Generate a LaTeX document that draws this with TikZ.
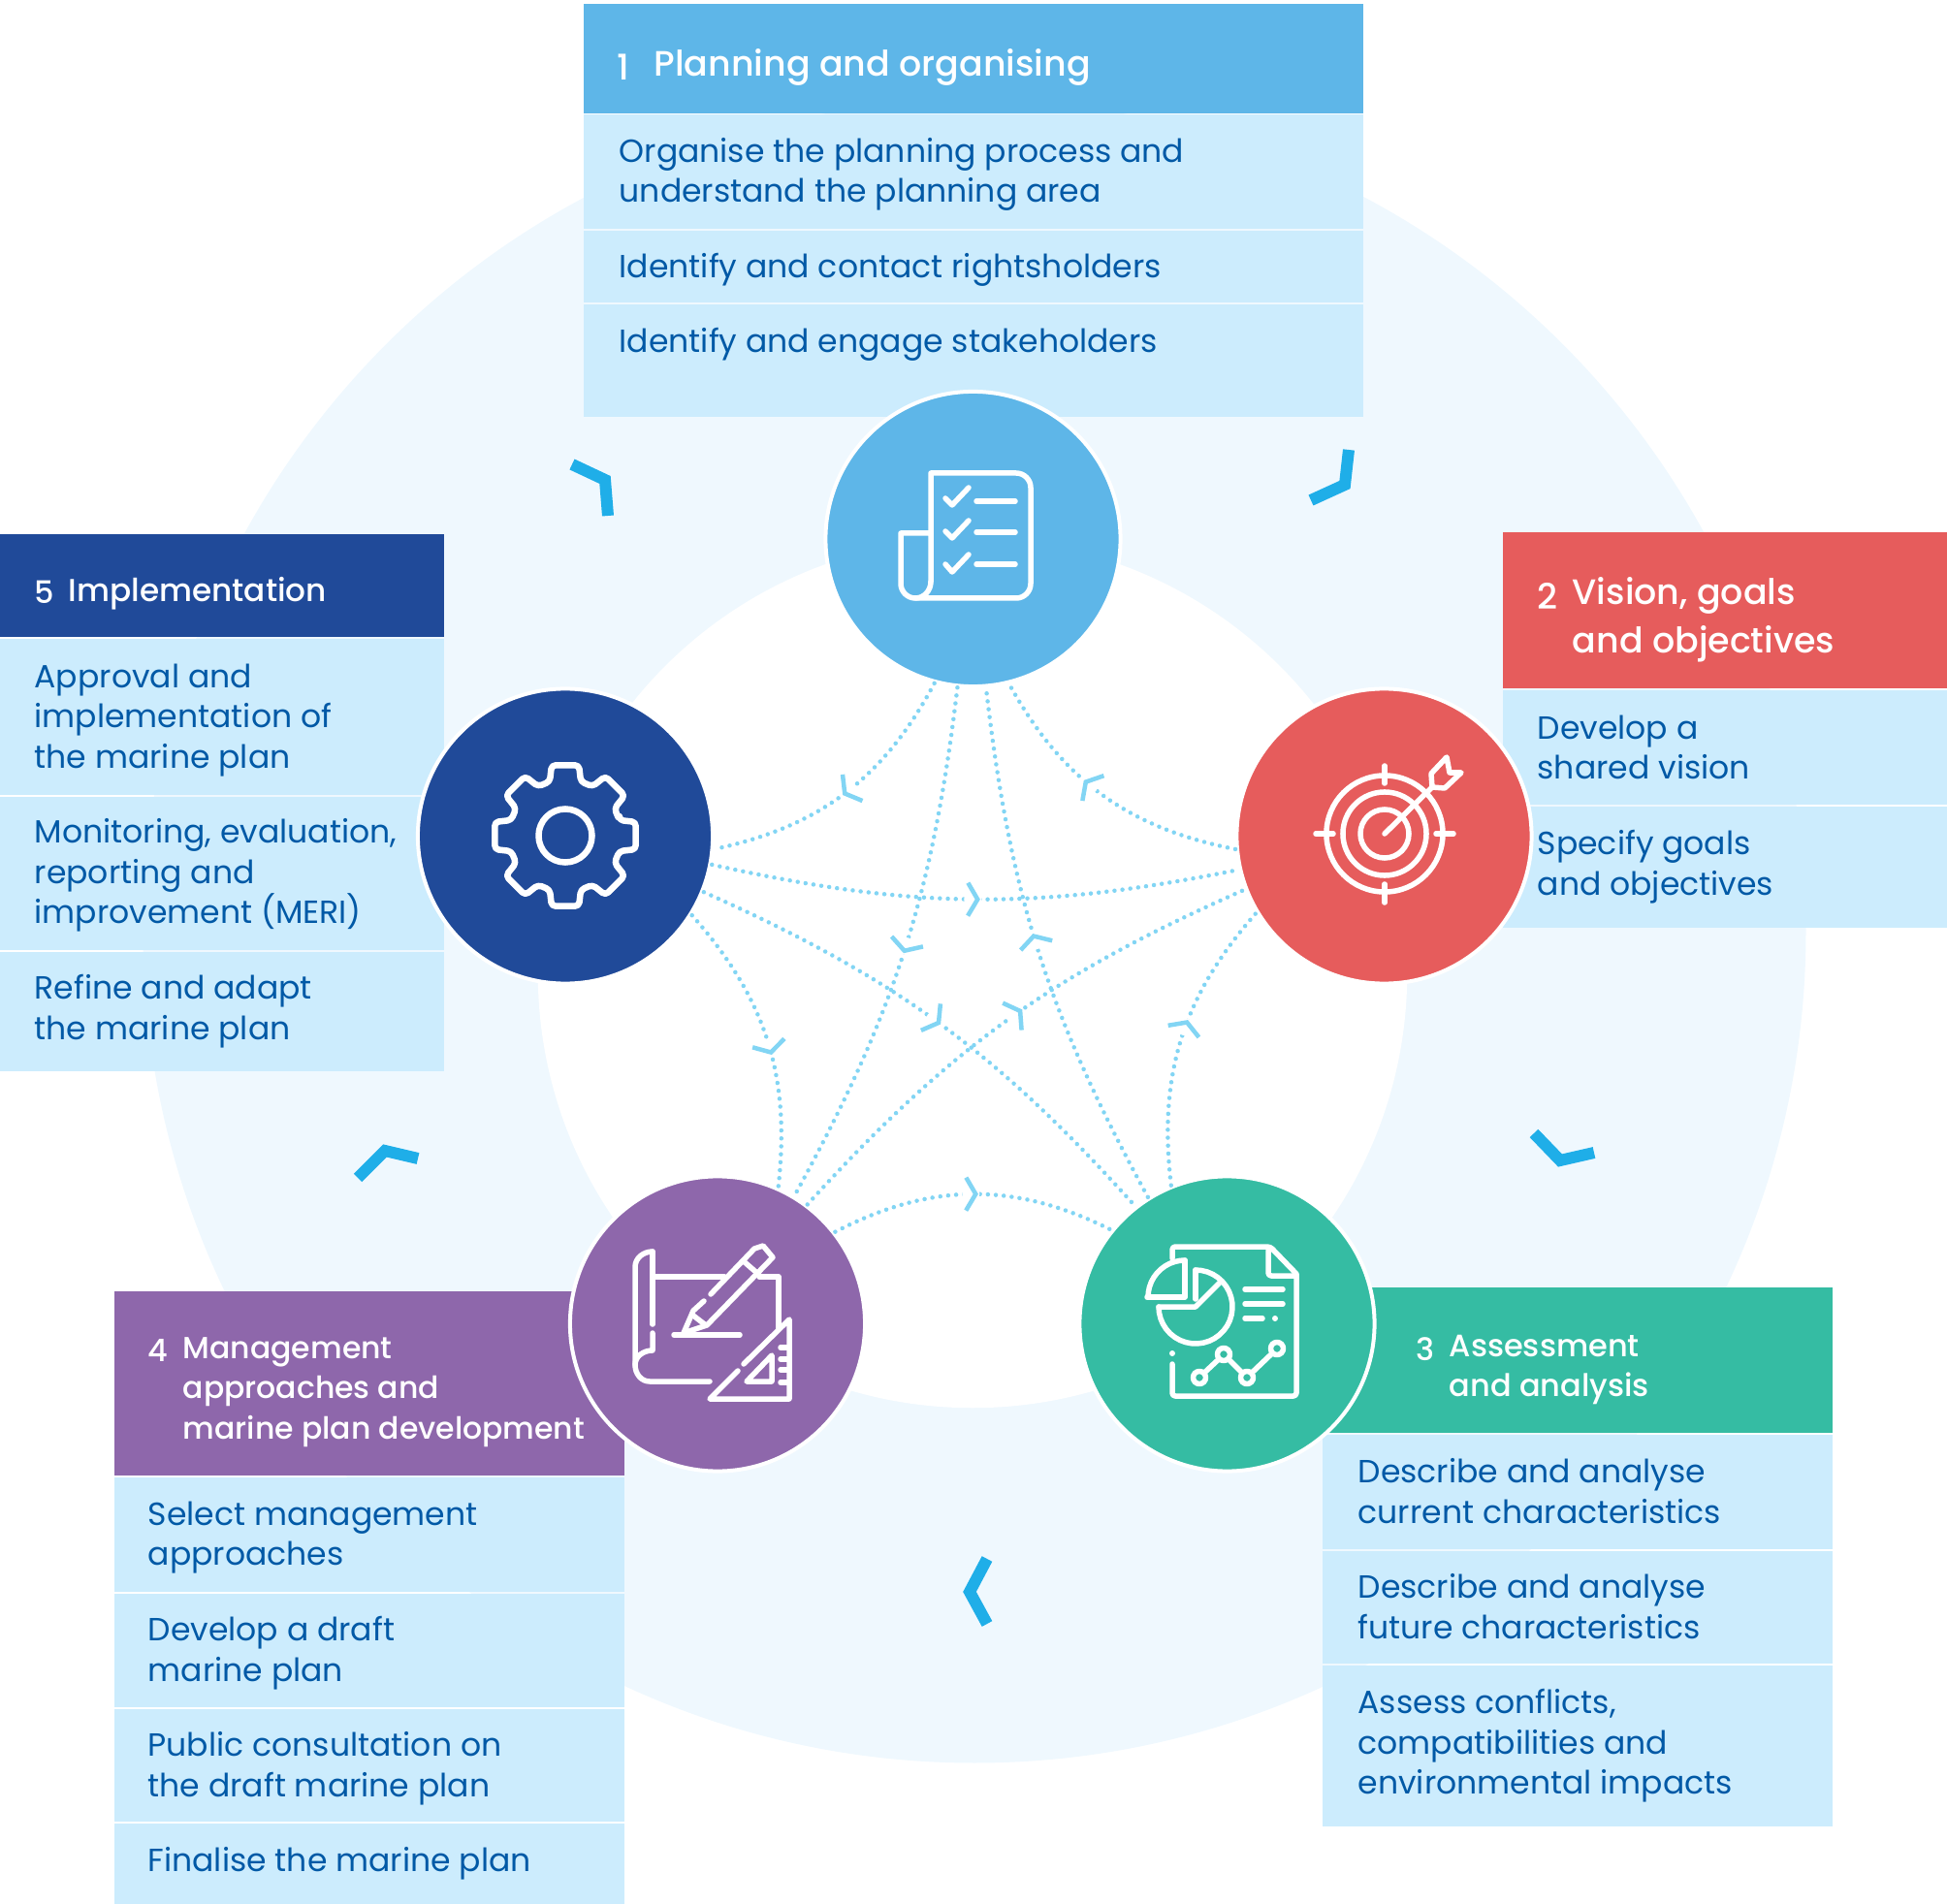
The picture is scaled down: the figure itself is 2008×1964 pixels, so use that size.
\documentclass[tikz,border=0pt]{standalone}
\usepackage{fontspec}
\setmainfont{Poppins}
\newfontfamily\headfamily{Poppins Medium}
\usepackage{xcolor}
\usetikzlibrary{decorations.markings}

\definecolor{backblue}{HTML}{EFF8FE}
\definecolor{rowblue}{HTML}{CCECFD}
\definecolor{textblue}{HTML}{0059A6}
\definecolor{planblue}{HTML}{5EB6E8}
\definecolor{visionred}{HTML}{E65C5C}
\definecolor{assessgreen}{HTML}{35BCA3}
\definecolor{managepurple}{HTML}{8E67AB}
\definecolor{implblue}{HTML}{204A99}
\definecolor{dotblue}{HTML}{82D5F4}
\definecolor{chevblue}{HTML}{1FAEE8}

\tikzset{
    stepcircle/.style={circle,draw=white,line width=0.04cm,minimum size=3.04cm,inner sep=0pt},
    rowtext/.style={anchor=west,align=left,inner sep=0pt,text=textblue,font=\fontsize{9.4}{11.84}\selectfont},
    headtext/.style={anchor=west,align=left,inner sep=0pt,text=white,font=\headfamily\fontsize{9.1}{11.84}\selectfont},
    bigheadtext/.style={anchor=west,align=left,inner sep=0pt,text=white,font=\headfamily\fontsize{10.35}{14.2}\selectfont},
    iconline/.style={draw=white,line width=0.055cm,line cap=round,line join=round},
    bigchevron/.style={draw=chevblue,line width=0.12cm},
    smallchevron/.style={solid,draw=dotblue,line width=0.045cm,line cap=butt,miter limit=10},
    link/.style={draw=dotblue,line width=0.045cm,line cap=round,dash pattern=on 0pt off 0.082cm,
        postaction={decorate,decoration={markings,mark=at position #1 with {
            \fill[white] (-5,0) circle (0.09cm);
            \draw[smallchevron] (-10,-17) -- (0,0) -- (-10,17);}}}},
    link/.default=0.5,
}

\begin{document}
\begin{tikzpicture}[x=0.01cm,y=-0.01cm]
    \useasboundingbox (0,0) rectangle (2008,1964);

    % background rings
    \fill[backblue] (1005,961) circle (8.57cm);
    \fill[white] (1003,1004) circle (4.48cm);

    % panels
    \fill[planblue] (602,4) rectangle (1406,117);
    \fill[rowblue] (602,118) rectangle (1406,236);
    \fill[rowblue] (602,238) rectangle (1406,312);
    \fill[rowblue] (602,314) rectangle (1406,430);

    \fill[visionred] (1550,549) rectangle (2008,710);
    \fill[rowblue] (1550,712) rectangle (2008,830);
    \fill[rowblue] (1550,832) rectangle (2008,957);

    \fill[implblue] (0,551) rectangle (458,657);
    \fill[rowblue] (0,659) rectangle (458,820);
    \fill[rowblue] (0,822) rectangle (458,980);
    \fill[rowblue] (0,982) rectangle (458,1105);

    \fill[managepurple] (118,1332) rectangle (644,1522);
    \fill[rowblue] (118,1524) rectangle (644,1642);
    \fill[rowblue] (118,1644) rectangle (644,1761);
    \fill[rowblue] (118,1763) rectangle (644,1879);
    \fill[rowblue] (118,1881) rectangle (644,1964);

    \fill[assessgreen] (1364,1328) rectangle (1890,1478);
    \fill[rowblue] (1364,1480) rectangle (1890,1598);
    \fill[rowblue] (1364,1600) rectangle (1890,1716);
    \fill[rowblue] (1364,1718) rectangle (1890,1884);

    % step circles
    \node[stepcircle,fill=planblue] (plan) at (1003.5,556) {};
    \node[stepcircle,fill=visionred] (vision) at (1427.5,862.5) {};
    \node[stepcircle,fill=assessgreen] (assess) at (1265.5,1365.5) {};
    \node[stepcircle,fill=managepurple] (manage) at (740,1365.5) {};
    \node[stepcircle,fill=implblue] (impl) at (583,862.5) {};

    % dotted links
    \draw[link] (plan.-105) to[bend left=25] (impl.-5);
    \draw[link=0.54] (impl.-32) to[bend left=24] (manage.66);
    \draw[link=0.51] (manage.38) to[bend left=27] (assess.141);
    \draw[link=0.56] (assess.112) to[bend left=24] (vision.-149);
    \draw[link=0.57] (vision.-175) to[bend left=25] (plan.-76);
    \draw[link=0.505] (impl.-11) to[bend right=12] (vision.-167);
    \draw[link] (plan.-96) to[bend left=11] (manage.59);
    \draw[link=0.53] (assess.122) to[bend left=11] (plan.-85);
    \draw[link] (impl.-22) to[bend left=12] (assess.128);
    \draw[link=0.53] (manage.53) to[bend left=12] (vision.-159);

    % big chevrons
    \draw[bigchevron] (590,479) -- (624,495) -- (627,532);
    \draw[bigchevron] (1352,516) -- (1387,500) -- (1391,464);
    \draw[bigchevron] (1582,1169) -- (1609,1197) -- (1644,1189);
    \draw[bigchevron] (1018,1608) -- (1000,1642) -- (1018,1675);
    \draw[bigchevron] (369,1215) -- (397,1187) -- (431,1195);

    % checklist icon
    \draw[iconline] (960,550) -- (929,550) [rounded corners=0.15cm] -- (929,617) -- (1063,617) -- (1063,488) [sharp corners] -- (960,488) -- (960,600);
    \draw[iconline] (960,600) to[out=-90,in=0] (944,617);
    \draw[iconline] (975,514) -- (982,521) -- (999,503);
    \draw[iconline] (975,548) -- (982,555) -- (999,537);
    \draw[iconline] (975,582) -- (982,590) -- (999,572);
    \draw[iconline] (1007,517) -- (1047,517);
    \draw[iconline] (1007,549) -- (1047,549);
    \draw[iconline] (1007,582) -- (1047,582);

    % target icon
    \draw[iconline] (1428,860) circle (0.6cm);
    \draw[iconline] (1428,860) circle (0.43cm);
    \draw[iconline] (1428,860) circle (0.25cm);
    \draw[iconline] (1428,790) -- (1428,808);
    \draw[iconline] (1428,912) -- (1428,931);
    \draw[iconline] (1357,860) -- (1375,860);
    \draw[iconline] (1481,860) -- (1499,860);
    \draw[iconline] (1428,860) -- (1476,813);
    \draw[iconline] (1476,798) -- (1492,781) -- (1495,797) -- (1507,797) -- (1490,813) -- (1477,812) -- cycle;

    % gear icon
    \draw[iconline,line width=0.065cm,shift={(583,862)}] (0,0) circle (0.275cm);
    \draw[iconline,line width=0.065cm,rounded corners=0.04cm,shift={(583,862)}] (-16:58)
        \foreach \a in {0,45,...,315} { -- ({\a-16}:58) -- ({\a-11}:74) -- ({\a+11}:74) -- ({\a+16}:58)} -- cycle;

    % blueprint icon
    \draw[iconline] (673,1291) to[out=180,in=90] (655,1307) -- (655,1408) to[out=-90,in=180] (670,1425) -- (732,1425);
    \draw[iconline] (673,1291) -- (673,1366);
    \draw[iconline] (673,1375) -- (673,1393) to[out=180,in=90] (655,1408);
    \draw[iconline] (673,1317) -- (747,1317);
    \draw[iconline] (783,1317) -- (803,1317) -- (803,1370);
    \draw[iconline] (733,1335) -- (778,1288) -- (787,1285) -- (797,1297) -- (729,1367) -- (705,1375) -- (715,1352) -- (726,1342);
    \draw[iconline] (768,1302) -- (783,1315);
    \draw[iconline] (715,1357) -- (728,1367);
    \draw[iconline] (695,1377) -- (763,1377);
    \draw[iconline] (767,1407) -- (814,1361) -- (814,1443) -- (732,1443) -- (761,1414);
    \draw[iconline] (770,1425) -- (796,1398) -- (796,1425) -- cycle;
    \draw[iconline] (805,1390) -- (814,1390);
    \draw[iconline] (805,1402) -- (814,1402);
    \draw[iconline] (805,1413) -- (814,1413);
    \draw[iconline] (805,1426) -- (814,1426);

    % report icon
    \draw[iconline,rounded corners=0.03cm] (1209,1298) -- (1209,1286) -- (1310,1286) [sharp corners] -- (1337,1314) [rounded corners=0.03cm] -- (1337,1440) -- (1209,1440) -- (1209,1407);
    \draw[iconline,rounded corners=0.03cm] (1308,1290) -- (1308,1316) -- (1335,1316);
    \fill[white] (1209,1396) circle (0.03cm);
    \draw[iconline] (1222,1300) -- (1222,1338) -- (1183,1338);
    \draw[iconline,shift={(1222,1338)}] plot[domain=180:270,samples=12] (\x:38);
    \draw[iconline,shift={(1233,1348)}] plot[domain=-90:180,samples=30] (\x:38);
    \draw[iconline] (1195,1348) -- (1233,1348) -- (1258,1323);
    \draw[iconline] (1233,1310) -- (1233,1340);
    \draw[iconline] (1284,1330) -- (1323,1330);
    \draw[iconline] (1284,1345) -- (1323,1345);
    \draw[iconline] (1284,1360) -- (1302,1360);
    \fill[white] (1315,1360) circle (0.03cm);
    \draw[iconline] (1237,1421) circle (0.065cm);
    \draw[iconline] (1262,1397) circle (0.065cm);
    \draw[iconline] (1286,1421) circle (0.065cm);
    \draw[iconline] (1317,1391) circle (0.065cm);
    \draw[iconline] (1242,1416) -- (1257,1402);
    \draw[iconline] (1267,1402) -- (1281,1416);
    \draw[iconline] (1291,1416) -- (1312,1396);

    % panel 1 text
    \node[bigheadtext] (plan no) at (636,69) {1};
    \node[bigheadtext] (plan title) at (674,69) {Planning and organising};
    \node[rowtext] (plan a) at (638,180) {Organise the planning process and\\understand the planning area};
    \node[rowtext] (plan b) at (638,278) {Identify and contact rightsholders};
    \node[rowtext] (plan c) at (638,355) {Identify and engage stakeholders};

    % panel 2 text
    \node[bigheadtext] (vision no) at (1585,615) {2};
    \node[bigheadtext] (vision title) at (1621,639) {Vision, goals\\and objectives};
    \node[rowtext] (vision a) at (1585,771) {Develop a\\shared vision};
    \node[rowtext] (vision b) at (1585,894) {Specify goals\\and objectives};

    % panel 3 text
    \node[headtext] (assess no) at (1460,1392) {3};
    \node[headtext] (assess title) at (1494,1413) {Assessment\\and analysis};
    \node[rowtext] (assess a) at (1400,1538) {Describe and analyse\\current characteristics};
    \node[rowtext] (assess b) at (1400,1657) {Describe and analyse\\future characteristics};
    \node[rowtext] (assess c) at (1400,1801) {Assess conflicts,\\compatibilities and\\environmental impacts};

    % panel 4 text
    \node[headtext] (manage no) at (152,1393) {4};
    \node[headtext,font=\headfamily\fontsize{8.95}{11.84}\selectfont] (manage title) at (188,1436) {Management\\approaches and\\marine plan development};
    \node[rowtext] (manage a) at (152,1586) {Select management\\approaches};
    \node[rowtext] (manage b) at (152,1705) {Develop a draft\\marine plan};
    \node[rowtext] (manage c) at (152,1824) {Public consultation on\\the draft marine plan};
    \node[rowtext] (manage d) at (152,1922) {Finalise the marine plan};

    % panel 5 text
    \node[headtext] (impl no) at (35,611) {5};
    \node[headtext,font=\headfamily\fontsize{9.3}{11.84}\selectfont] (impl title) at (70,612) {Implementation};
    \node[rowtext] (impl a) at (35,743) {Approval and\\implementation of\\the marine plan};
    \node[rowtext] (impl b) at (35,903) {Monitoring, evaluation,\\reporting and\\improvement (MERI)};
    \node[rowtext] (impl c) at (35,1043) {Refine and adapt\\the marine plan};
\end{tikzpicture}
\end{document}
